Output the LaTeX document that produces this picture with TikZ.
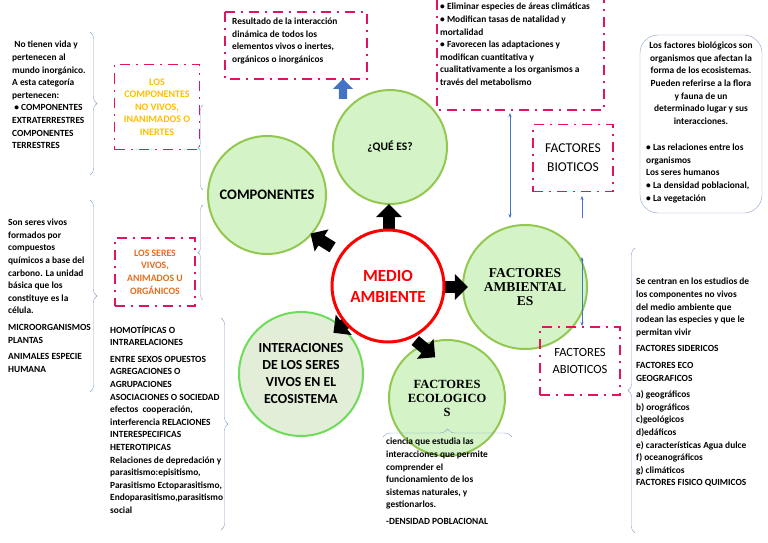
\documentclass[tikz,border=0pt]{standalone}
\usepackage{fontspec}
\setmainfont{Carlito}
\newfontfamily\serifb{Liberation Serif}
\usetikzlibrary{shapes.arrows,decorations.pathreplacing,arrows.meta}
\definecolor{cfill}{RGB}{212,244,200}
\definecolor{cline}{RGB}{146,200,80}
\definecolor{iline}{RGB}{110,220,90}
\definecolor{ifill}{RGB}{226,238,216}
\definecolor{mag}{RGB}{225,20,100}
\definecolor{brc}{RGB}{140,160,200}
\definecolor{ablue}{RGB}{68,114,196}
\definecolor{yel}{RGB}{255,190,0}
\definecolor{org}{RGB}{228,108,30}
\begin{document}
\begin{tikzpicture}[x=1pt,y=-1pt,
 circ/.style={circle,draw=cline,fill=cfill,line width=2pt,align=center,font=\bfseries,inner sep=0pt},
 dbox/.style={draw=mag,line width=1.6pt,dash pattern=on 10pt off 6pt on 2pt off 6pt},
 txt/.style={anchor=north west,align=left,inner sep=0pt,font=\fontsize{9.4}{12.6}\selectfont\bfseries},
 brace/.style={draw=brc,thin,decorate,decoration={brace,amplitude=7pt}},
 blk/.style={single arrow,fill=black,minimum height=26pt,minimum width=26pt,single arrow head extend=4pt,inner sep=3pt},
 thin arrow/.style={draw=ablue,thin,-{Stealth[length=4pt]}}]
\useasboundingbox (0,0) rectangle (768,543);
% circles
\node[circ,minimum size=114pt,font=\fontsize{11.5}{13}\selectfont\bfseries] (que) at (390,147) {¿QUÉ ES?};
\node[circ,minimum size=118pt,font=\fontsize{14.5}{16}\selectfont\bfseries] (comp) at (267,195) {COMPONENTES};
\node[circ,minimum size=124pt,font=\fontsize{13.5}{14}\selectfont\serifb\bfseries] (amb) at (525,287) {FACTORES\\AMBIENTAL\\ES};
\node[circ,minimum size=116pt,font=\fontsize{12.5}{14}\selectfont\serifb\bfseries] (eco) at (447,398) {FACTORES\\ECOLOGICO\\S};
\node[circ,draw=iline,fill=ifill,minimum size=124pt,font=\fontsize{13.8}{17}\selectfont\bfseries] (inter) at (301,374) {INTERACIONES\\DE LOS SERES\\VIVOS EN EL\\ECOSISTEMA};
% block arrows
\node[blk,rotate=90] (a1) at (389,220) {};
\node[blk,rotate=148] (a2) at (324,242) {};
\node[blk,rotate=0] (a3) at (452,287) {};
\node[blk,rotate=218] (a4) at (346,323) {};
\node[blk,rotate=-40] (a5) at (423,347) {};
\node[circle,draw=red,line width=3pt,fill=white,minimum size=112pt,text=red,align=center,font=\fontsize{17}{21}\selectfont\bfseries] (med) at (388,286) {MEDIO\\AMBIENTE};
\node[single arrow,fill=ablue,rotate=90,minimum height=20pt,minimum width=20pt,single arrow head extend=3pt,inner sep=2pt] (ab) at (343,91) {};
% dashed boxes
\draw[dbox] (225,12) rectangle (367,79);
\node[txt] (t1) at (232,18) {Resultado de la interacción\\dinámica de todos los\\elementos vivos o inertes,\\orgánicos o inorgánicos};
\node[dbox,minimum width=85pt,minimum height=85pt,align=center,text=yel,font=\fontsize{10}{12.6}\selectfont\bfseries] (cnv) at (157,107) {LOS\\COMPONENTES\\NO VIVOS,\\INANIMADOS O\\INERTES};
\node[dbox,minimum width=80pt,minimum height=68pt,align=center,text=org,font=\fontsize{9.8}{12.6}\selectfont\bfseries] (sv) at (155,272) {LOS SERES\\VIVOS,\\ANIMADOS U\\ORGÁNICOS};
\draw[dbox] (437,0) -- (437,110) -- (604,110) -- (604,0);
\node[txt] (t2) at (440,3) {• Eliminar especies de áreas climáticas\\• Modifican tasas de natalidad y\\mortalidad\\• Favorecen las adaptaciones y\\modifican cuantitativa y\\cualitativamente a los organismos a\\través del metabolismo};
\node[dbox,minimum width=80pt,minimum height=67pt,align=center,font=\fontsize{13.5}{19}\selectfont] (bio) at (573,158) {FACTORES\\BIOTICOS};
\node[dbox,minimum width=80pt,minimum height=68pt,align=center,font=\fontsize{12.5}{17}\selectfont] (abio) at (580,361) {FACTORES\\ABIOTICOS};
% texts
\node[txt] (t3) at (12,41) {\ No tienen vida y\\pertenecen al\\mundo inorgánico.\\A esta categoría\\pertenecen:\\\ • COMPONENTES\\EXTRATERRESTRES\\COMPONENTES\\TERRESTRES};
\node[txt] (t4) at (8,219) {Son seres vivos\\formados por\\compuestos\\químicos a base del\\carbono. La unidad\\básica que los\\constituye es la\\célula.\\[4pt]MICROORGANISMOS\\PLANTAS\\[4pt]ANIMALES ESPECIE\\HUMANA};
\node[txt] (t5) at (110,325) {HOMOTÍPICAS O\\INTRARELACIONES\\[4pt]ENTRE SEXOS OPUESTOS\\AGREGACIONES O\\AGRUPACIONES\\ASOCIACIONES O SOCIEDAD\\efectos\ \ cooperación,\\interferencia RELACIONES\\INTERESPECIFICAS\\HETEROTIPICAS\\Relaciones de depredación y\\parasitismo:episitismo,\\Parasitismo Ectoparasitismo,\\Endoparasitismo,parasitismo\\social};
\node[txt] (t6) at (386,438) {ciencia que estudia las\\interacciones que permite\\comprender el\\funcionamiento de los\\sistemas naturales, y\\gestionarlos.\\[4pt]-DENSIDAD POBLACIONAL};
\node[txt] (t7) at (636,278) {Se centran en los estudios de\\los componentes no vivos\\del medio ambiente que\\rodean las especies y que le\\permitan vivir\\[4pt]FACTORES SIDERICOS\\[4pt]FACTORES ECO\\GEOGRAFICOS\\[4pt]a) geográficos\\b) orográficos\\c)geológicos\\d)edáficos\\e) características Agua dulce\\f) oceanográficos\\g) climáticos\\FACTORES FISICO QUIMICOS};
\node[draw=brc,rounded corners=18pt,minimum width=122pt,minimum height=178pt] (rb) at (701,124) {};
\node[txt,anchor=north,align=center] (t8) at (701,42) {Los factores biológicos son\\organismos que afectan la\\forma de los ecosistemas.\\Pueden referirse a la flora\\y fauna de un\\determinado lugar y sus\\interacciones.};
\node[txt] (t9) at (646,144) {• Las relaciones entre los\\organismos\\Los seres humanos\\• La densidad poblacional,\\• La vegetación};
% braces
\draw[brace] (90,32) -- (90,175);
\draw[brace] (90,200) -- (90,392);
\draw[brace] (221,318) -- (221,530);
\draw[brace,decoration={brace,mirror,amplitude=7pt}] (635,248) -- (635,533);
\draw[brace,decoration={brace,amplitude=8pt}] (383,437) -- (512,437);
\draw[brace,decoration={brace,mirror,amplitude=5pt}] (203,105) -- (203,190);
\draw[brace,decoration={brace,mirror,amplitude=5pt}] (203,205) -- (203,300);
% thin arrows
\draw[thin arrow,{Stealth[length=4pt]}-{Stealth[length=4pt]}] (510,218) -- (510,113);
\draw[thin arrow] (582,218) -- (582,196);
\draw[thin arrow,{Stealth[length=4pt]}-{Stealth[length=4pt]}] (582,257) -- (582,326);
\end{tikzpicture}
\end{document}
